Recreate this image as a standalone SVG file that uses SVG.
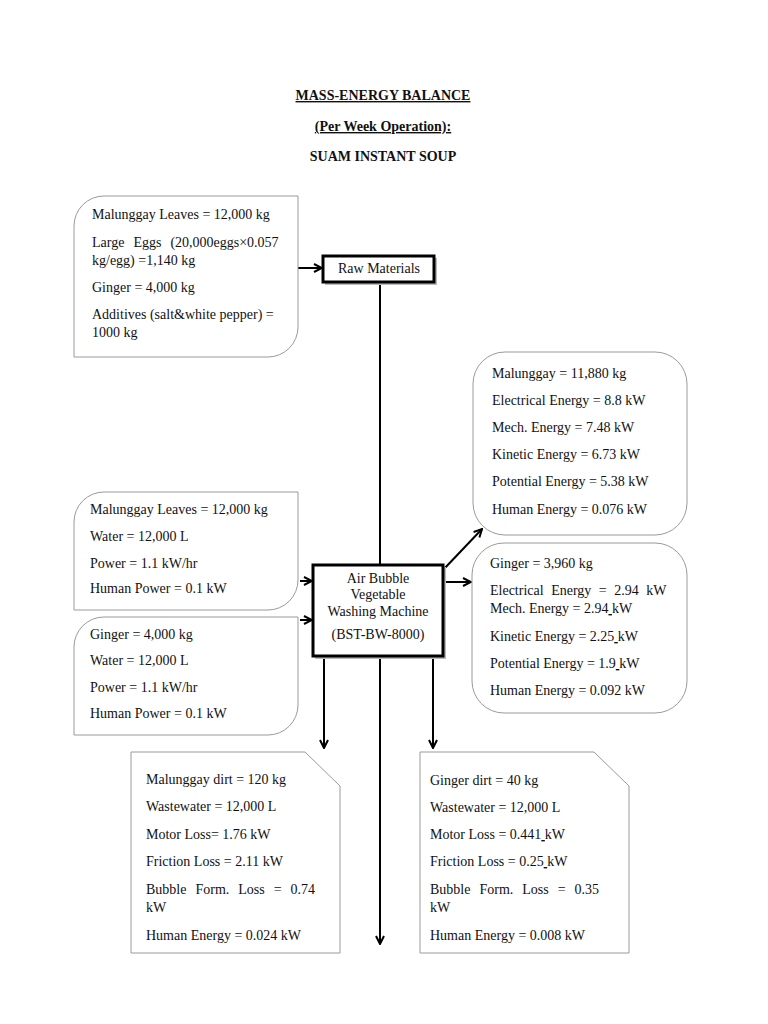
<svg xmlns="http://www.w3.org/2000/svg" width="768" height="1024" viewBox="0 0 768 1024">
<defs>
<style>
text{font-family:"Liberation Serif","Times New Roman",serif;font-size:14px;fill:#111}
.title{font-weight:bold;font-size:14px;text-anchor:middle}
.u{text-decoration:underline}
.box{fill:#fff;stroke:#9a9a9a;stroke-width:1}
.main{fill:#fff;stroke:#000;stroke-width:3}
.shadow{fill:#bbb;stroke:none}
.c{text-anchor:middle}
.line{stroke:#000;stroke-width:2;fill:none}
</style>
<marker id="arr" viewBox="0 0 10 10" refX="9" refY="5" markerWidth="5" markerHeight="5" orient="auto" markerUnits="strokeWidth">
<path d="M1,1 L9,5 L1,9" fill="none" stroke="#000" stroke-width="2"/>
</marker>
</defs>
<rect width="768" height="1024" fill="#fff"/>

<g id="title">
<text class="title u" x="383" y="100">MASS-ENERGY BALANCE</text>
<text class="title u" x="383" y="131">(Per Week Operation):</text>
<text class="title" x="383" y="161">SUAM INSTANT SOUP</text>
</g>

<g id="connectors">
<line class="line" x1="298" y1="268" x2="322" y2="268" marker-end="url(#arr)"/>
<line class="line" x1="380" y1="283" x2="380" y2="564"/>
<line class="line" x1="300" y1="581" x2="312" y2="581" marker-end="url(#arr)"/>
<line class="line" x1="300" y1="620" x2="312" y2="620" marker-end="url(#arr)"/>
<line class="line" x1="443" y1="570" x2="482" y2="529" marker-end="url(#arr)"/>
<line class="line" x1="444" y1="582" x2="471" y2="582" marker-end="url(#arr)"/>
<line class="line" x1="324" y1="657" x2="324" y2="748" marker-end="url(#arr)"/>
<line class="line" x1="433" y1="657" x2="433" y2="748" marker-end="url(#arr)"/>
<line class="line" x1="380" y1="657" x2="380" y2="944" marker-end="url(#arr)"/>
</g>

<g id="inputs-raw">
<path class="box" d="M104,196 H298 V327 A30,30 0 0 1 268,357 H74 V226 A30,30 0 0 1 104,196 Z"/>
<text x="92" y="219">Malunggay Leaves = 12,000 kg</text>
<text x="92" y="247" word-spacing="5.5">Large Eggs (20,000eggs×0.057</text>
<text x="92" y="265">kg/egg) =1,140 kg</text>
<text x="92" y="292">Ginger = 4,000 kg</text>
<text x="92" y="319">Additives (salt&amp;white pepper) =</text>
<text x="92" y="337">1000 kg</text>
</g>

<g id="raw-materials">
<rect class="shadow" x="325" y="258" width="112" height="27"/>
<rect class="main" x="323" y="256" width="111" height="26"/>
<text class="c" x="379" y="273">Raw Materials</text>
</g>

<g id="inputs-malunggay">
<path class="box" d="M104,492 H298 V580 A30,30 0 0 1 268,610 H74 V522 A30,30 0 0 1 104,492 Z"/>
<text x="90" y="514">Malunggay Leaves = 12,000 kg</text>
<text x="90" y="541">Water = 12,000 L</text>
<text x="90" y="568">Power = 1.1 kW/hr</text>
<text x="90" y="593">Human Power = 0.1 kW</text>
</g>

<g id="inputs-ginger">
<path class="box" d="M104,617 H298 V705 A30,30 0 0 1 268,735 H74 V647 A30,30 0 0 1 104,617 Z"/>
<text x="90" y="639">Ginger = 4,000 kg</text>
<text x="90" y="665">Water = 12,000 L</text>
<text x="90" y="692">Power = 1.1 kW/hr</text>
<text x="90" y="718">Human Power = 0.1 kW</text>
</g>

<g id="machine">
<rect class="shadow" x="315" y="567" width="131" height="92"/>
<rect class="main" x="313" y="565" width="130" height="91"/>
<text class="c" x="378" y="583">Air Bubble</text>
<text class="c" x="378" y="599">Vegetable</text>
<text class="c" x="378" y="616">Washing Machine</text>
<text class="c" x="378" y="639">(BST-BW-8000)</text>
</g>

<g id="output-malunggay">
<rect class="box" x="473" y="352" width="214" height="183" rx="32" ry="32"/>
<text x="492" y="378">Malunggay = 11,880 kg</text>
<text x="492" y="405">Electrical Energy = 8.8 kW</text>
<text x="492" y="432">Mech. Energy = 7.48 kW</text>
<text x="492" y="459">Kinetic Energy = 6.73 kW</text>
<text x="492" y="486">Potential Energy = 5.38 kW</text>
<text x="492" y="514">Human Energy = 0.076 kW</text>
</g>

<g id="output-ginger">
<rect class="box" x="472" y="543" width="215" height="170" rx="32" ry="32"/>
<text x="490" y="568">Ginger = 3,960 kg</text>
<text x="490" y="595" word-spacing="4">Electrical Energy = 2.94 kW</text>
<text x="490" y="613">Mech. Energy = 2.94<tspan class="u"> </tspan>kW</text>
<text x="490" y="641">Kinetic Energy = 2.25<tspan class="u"> </tspan>kW</text>
<text x="490" y="668">Potential Energy = 1.9<tspan class="u"> </tspan>kW</text>
<text x="490" y="695">Human Energy = 0.092 kW</text>
</g>

<g id="waste-malunggay">
<path class="box" d="M131,752 H305 L340,786 V953 H131 Z"/>
<text x="146" y="784">Malunggay dirt = 120 kg</text>
<text x="146" y="811">Wastewater = 12,000 L</text>
<text x="146" y="839">Motor Loss= 1.76 kW</text>
<text x="146" y="866">Friction Loss = 2.11 kW</text>
<text x="146" y="894" word-spacing="5.5">Bubble Form. Loss = 0.74</text>
<text x="146" y="912">kW</text>
<text x="146" y="940">Human Energy = 0.024 kW</text>
</g>

<g id="waste-ginger">
<path class="box" d="M420,752 H594 L629,786 V953 H420 Z"/>
<text x="430" y="785">Ginger dirt = 40 kg</text>
<text x="430" y="812">Wastewater = 12,000 L</text>
<text x="430" y="839">Motor Loss = 0.441<tspan class="u"> </tspan>kW</text>
<text x="430" y="866">Friction Loss = 0.25<tspan class="u"> </tspan>kW</text>
<text x="430" y="894" word-spacing="5.5">Bubble Form. Loss = 0.35</text>
<text x="430" y="912">kW</text>
<text x="430" y="940">Human Energy = 0.008 kW</text>
</g>
</svg>
